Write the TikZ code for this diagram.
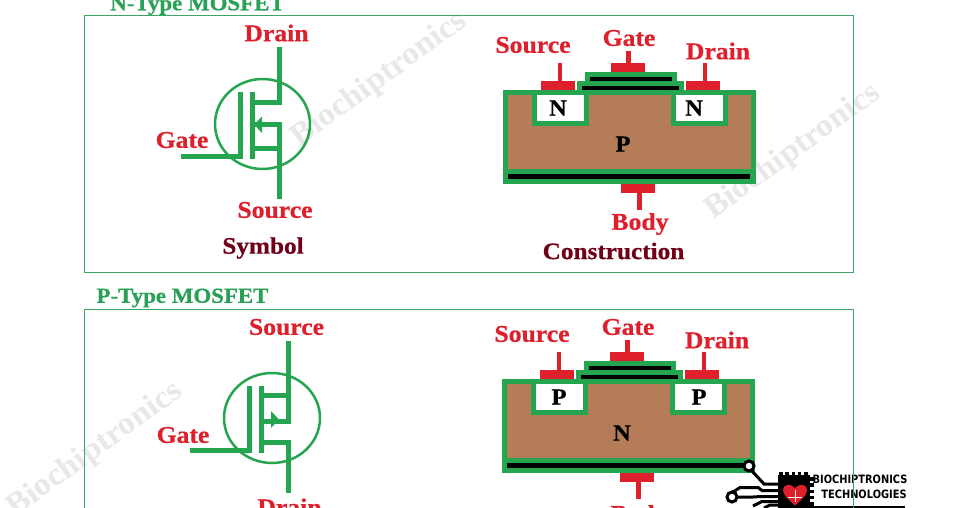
\documentclass[tikz,border=0pt]{standalone}
\usepackage{fontspec}
\setmainfont{Liberation Serif}[FakeStretch=1.07,BoldFeatures={FakeStretch=1.07,FakeBold=0.6}]
\newfontfamily\markfont{Liberation Serif}[FakeStretch=1.05]
\newfontfamily\logofont{DejaVu Sans}[FakeStretch=0.855]
\definecolor{grn}{RGB}{38,165,80}
\definecolor{frameg}{RGB}{60,165,100}
\definecolor{titleg}{RGB}{40,160,85}
\definecolor{redl}{RGB}{222,32,45}
\definecolor{darkr}{RGB}{112,0,24}
\definecolor{brownb}{RGB}{181,124,88}
\definecolor{wm}{RGB}{232,232,232}
\tikzset{
  lab/.style={font=\fontsize{24}{26}\selectfont\bfseries,text=redl,inner sep=0pt},
  captext/.style={font=\fontsize{23.6}{26}\selectfont\bfseries,text=darkr,inner sep=0pt},
  ttl/.style={font=\fontsize{21.4}{24}\selectfont\bfseries,text=titleg,inner sep=0pt},
  dop/.style={font=\fontsize{23}{24}\selectfont\bfseries,text=black,inner sep=0pt},
  water/.style={font=\markfont\fontsize{32}{36}\selectfont\bfseries,text=wm,rotate=36,inner sep=0pt},
  framebox/.style={draw=frameg,line width=0.9pt},
  lead/.style={draw=grn,line width=5pt},
  ring/.style={draw=grn,line width=2.5pt},
  gfill/.style={fill=grn,draw=none},
  rfill/.style={fill=redl,draw=none},
  kfill/.style={fill=black,draw=none},
  trace/.style={draw=black,line width=3pt},
  pad/.style={draw=black,line width=3pt,fill=white}
}
\newcommand{\devicebody}{%
  \fill[gfill] (503,90) rectangle (756,184);
  \fill[brownb] (508,95) rectangle (751,169);
  \fill[kfill] (508,173.5) rectangle (750,179);
  \fill[gfill] (532,95) rectangle (589,126);
  \fill[white] (537,95) rectangle (584,121);
  \fill[gfill] (671,95) rectangle (728,126);
  \fill[white] (676,95) rectangle (723,121);
  \fill[gfill] (577,81) rectangle (684,91);
  \fill[gfill] (585,72) rectangle (677,82);
  \fill[kfill] (590,77) rectangle (672,81);
  \fill[kfill] (582,86) rectangle (679,90);
  \fill[rfill] (611,63) rectangle (645,72);
  \fill[rfill] (626,51) rectangle (630.5,63);
  \fill[rfill] (541,81) rectangle (575,90);
  \fill[rfill] (557.5,63) rectangle (562,81);
  \fill[rfill] (686,81) rectangle (720,90);
  \fill[rfill] (702.5,63) rectangle (707,81);
  \fill[rfill] (621,184) rectangle (655,193);
  \fill[rfill] (637,193) rectangle (641.5,210);
}
\begin{document}
\begin{tikzpicture}[x=1pt,y=-1pt]
\useasboundingbox (0,0) rectangle (968,508);
\fill[white] (0,0) rectangle (968,508);
% watermarks
\node[water] (w1) at (379,80) {Biochiptronics};
\node[water] (w2) at (793,152) {Biochiptronics};
\node[water] (w3) at (95,450) {Biochiptronics};
% frames
\draw[framebox] (84.5,15) rectangle (853,272);
\draw[framebox] (84.5,508) -- (84.5,309.5) -- (853,309.5) -- (853,508);
% titles
\node[ttl] (t1) at (197.5,5.5) {N-Type MOSFET};
\node[ttl] (t2) at (182.5,298) {P-Type MOSFET};
% N symbol
\draw[ring] (262.5,124) ellipse (47.5 and 45);
\draw[lead] (279,47) -- (279,103) -- (253,103);
\draw[lead] (253,124.5) -- (279,124.5) -- (279,199);
\draw[lead] (253,148.5) -- (279,148.5);
\draw[lead] (240,92) -- (240,158.5);
\draw[lead] (252.5,92) -- (252.5,158.5);
\draw[lead] (181,156) -- (242,156);
\fill[gfill] (254,124.5) -- (262,116.5) -- (262,133) -- cycle;
\node[lab] (nd) at (276.5,33) {Drain};
\node[lab] (ng) at (182,140) {Gate};
\node[lab] (ns) at (275,210) {Source};
\node[captext] (ncap) at (263,248) {Symbol};
% N construction
\devicebody
\node[lab] (ncs) at (533,45) {Source};
\node[lab] (ncg) at (629,38) {Gate};
\node[lab] (ncd) at (718,51) {Drain};
\node[dop] (nn1) at (558,108) {N};
\node[dop] (nn2) at (694,108) {N};
\node[dop] (np) at (623,144) {P};
\node[lab] (ncb) at (640,224) {Body};
\node[captext] (nccap) at (613.5,251) {Construction};
% P symbol
\draw[ring] (272,418) ellipse (48 and 45);
\draw[lead] (288.7,341) -- (288.7,421) -- (262,421);
\draw[lead] (262,395.5) -- (288.7,395.5);
\draw[lead] (262,442) -- (288.7,442) -- (288.7,493);
\draw[lead] (249,386) -- (249,453);
\draw[lead] (261,386) -- (261,453);
\draw[lead] (190,450) -- (251,450);
\fill[gfill] (279,419.5) -- (271,411) -- (271,428) -- cycle;
\node[lab] (pds) at (286.5,327) {Source};
\node[lab] (pg) at (183,435) {Gate};
\node[lab] (pd) at (289.5,507) {Drain};
% P construction
\begin{scope}[xshift=-1pt,yshift=-289pt]
\devicebody
\end{scope}
\node[lab] (pcs) at (532,334) {Source};
\node[lab] (pcg) at (628,327) {Gate};
\node[lab] (pcd) at (717,340) {Drain};
\node[dop] (pp1) at (559,397) {P};
\node[dop] (pp2) at (699,397) {P};
\node[dop] (pn) at (622,433) {N};
\node[lab] (pcb) at (639,516) {Body};
% logo
\draw[trace] (751,470) -- (764,484) -- (778,484);
\draw[pad] (749,466) circle (5);
\draw[trace] (733,492) -- (740,487.5) -- (758,487.5) -- (762,490.5) -- (778,490.5);
\draw[trace] (738,497) -- (753,497) -- (761,496.5) -- (778,496.5);
\draw[trace] (753,506) -- (762,501.5) -- (778,501.5);
\draw[trace] (764,508) -- (770,505) -- (778,505);
\draw[pad] (732,497) circle (5);
\fill[kfill] (778,475) rectangle (810,508);
\foreach \k in {0,...,4}{\fill[kfill] (779+\k*6.3,472) rectangle (782.5+\k*6.3,475);
  \fill[kfill] (810,477+\k*6.3) rectangle (813.5,480.5+\k*6.3);}
\fill[redl] (795,505.5) .. controls (788,499) and (783,495) .. (783,490) .. controls (783,484) and (791,483) .. (795,488) .. controls (799,483) and (807,484) .. (807,490) .. controls (807,495) and (802,499) .. (795,505.5) -- cycle;
\draw[white,line width=0.5pt] (795,490) -- (795,502) (788,497) -- (802,497);
\node[font=\logofont\fontsize{11.5}{12}\selectfont\bfseries,text=black,inner sep=0pt] (lg1) at (860,479.5) {BIOCHIPTRONICS};
\node[font=\logofont\fontsize{11.5}{12}\selectfont\bfseries,text=black,inner sep=0pt] (lg2) at (864,494) {TECHNOLOGIES};
\fill[kfill] (778,506) rectangle (905,508);
\draw[framebox] (853,450) -- (853,508);
\end{tikzpicture}
\end{document}
